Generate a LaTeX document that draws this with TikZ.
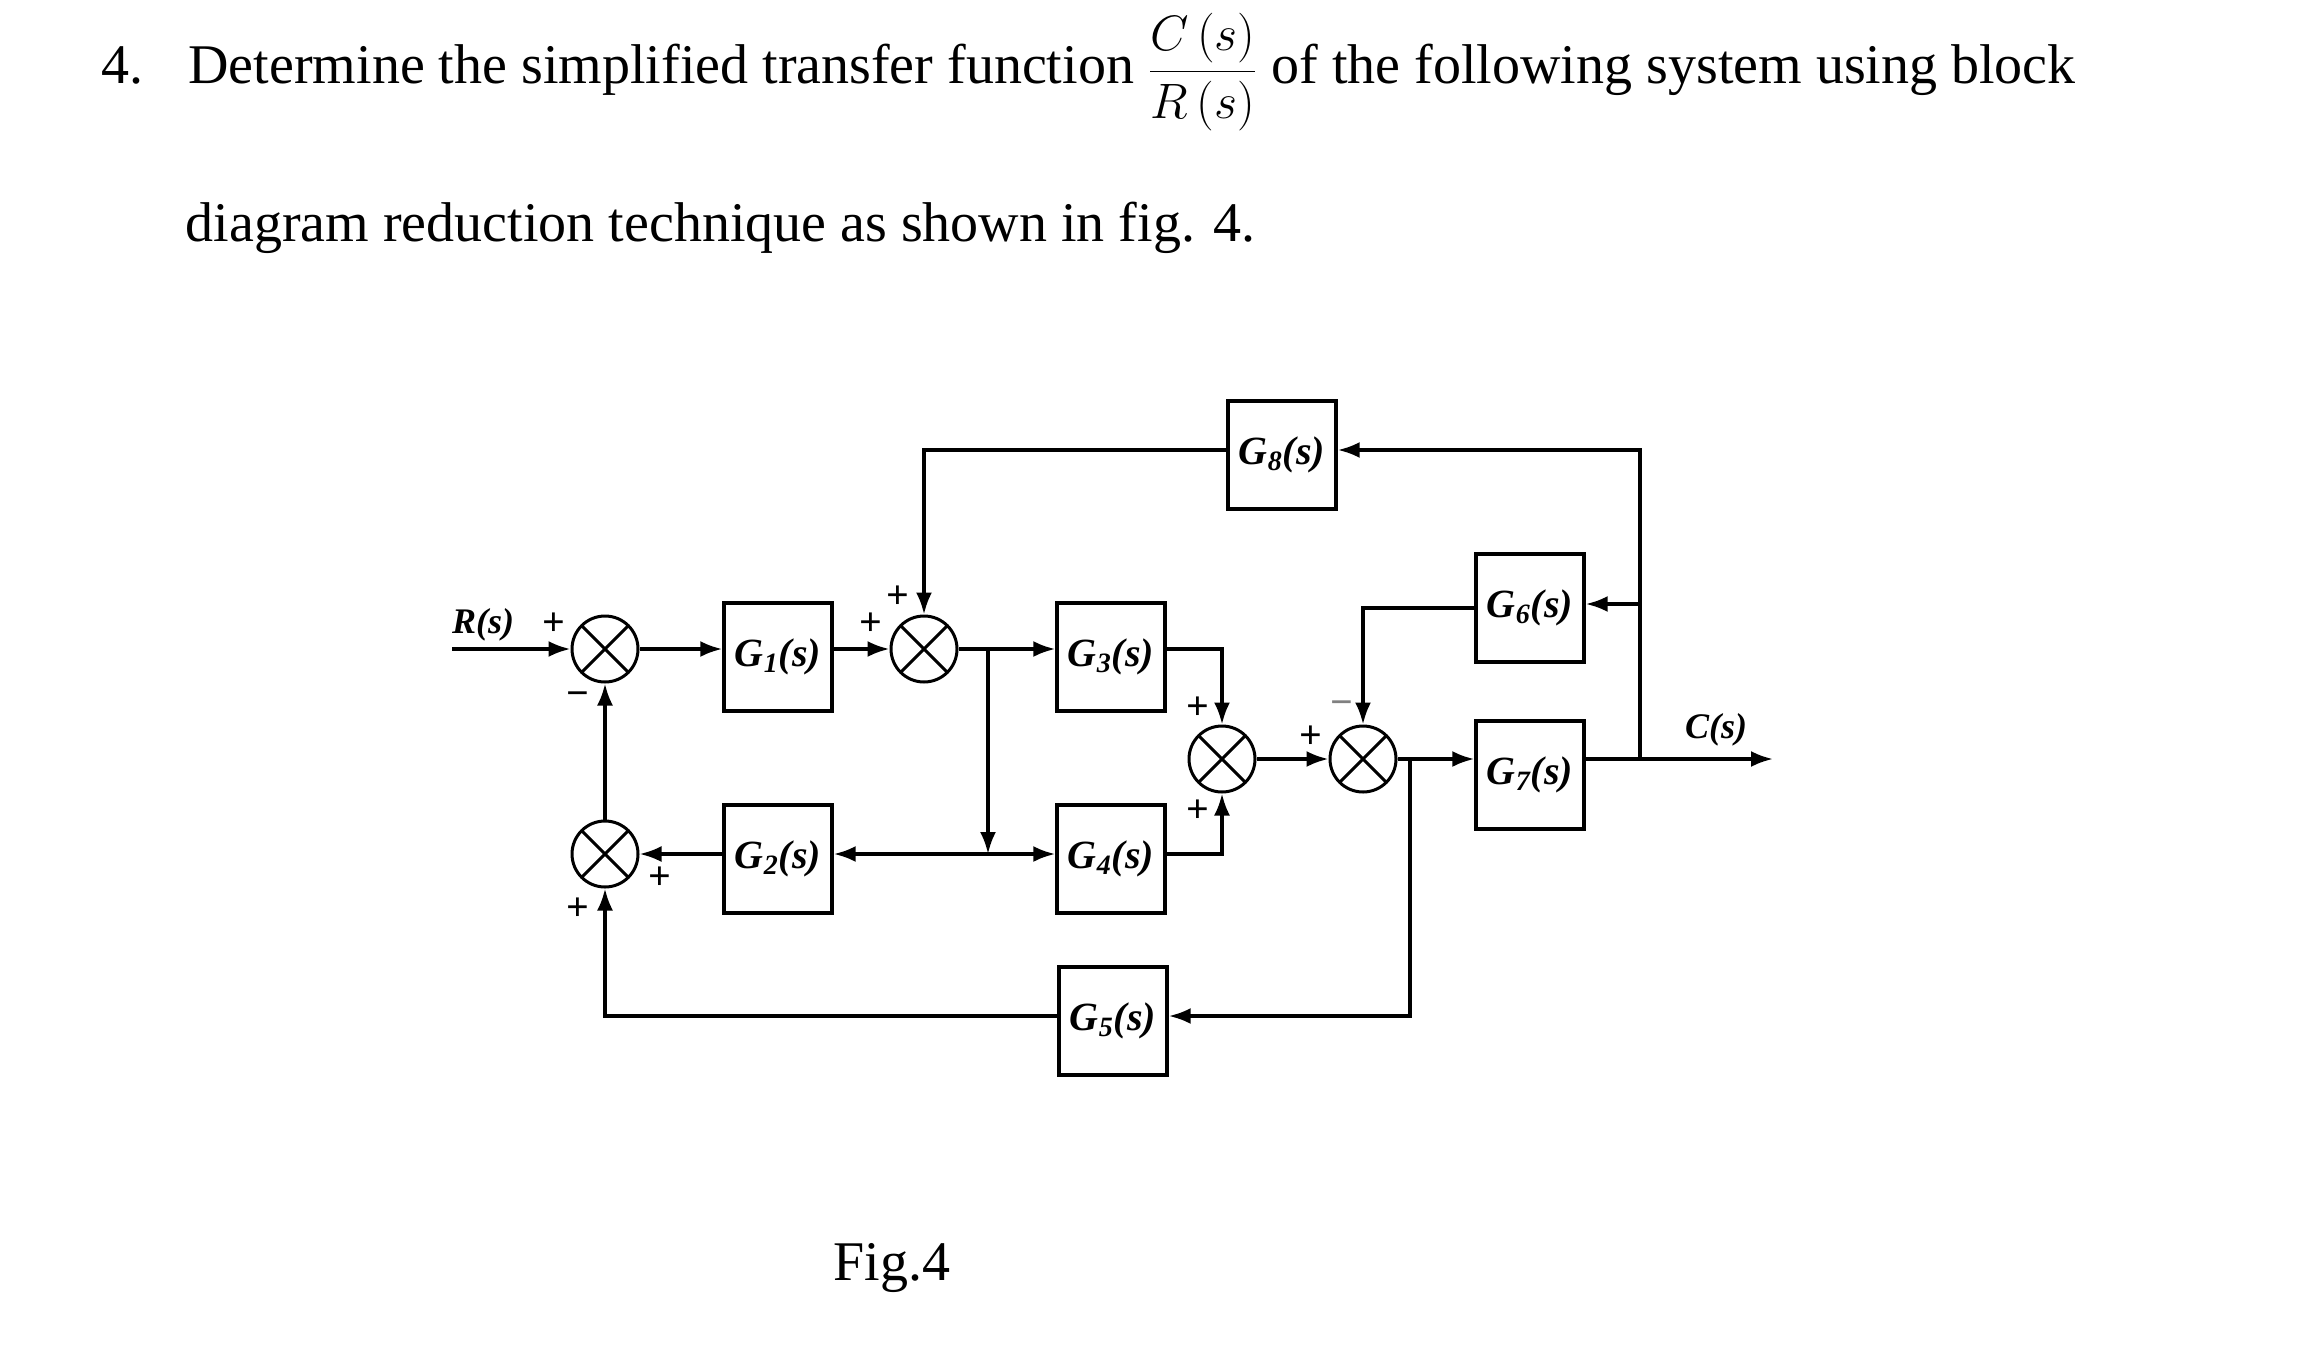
\documentclass[tikz,border=0pt]{standalone}
\usepackage{fontspec}
\setmainfont{Liberation Serif}
\usetikzlibrary{arrows.meta}
\begin{document}
\begin{tikzpicture}[x=0.5pt,y=-0.5pt,
  line width=1.7pt,
  >={Latex[length=11pt,width=8pt]},
  blk/.style={draw,minimum width=54pt,minimum height=54pt,inner sep=0pt,
    font=\fontsize{20}{20}\selectfont\bfseries\itshape},
  sum/.style={draw,circle,minimum size=33pt,inner sep=0pt,line width=1.5pt,
    path picture={\draw[line width=1.5pt] (path picture bounding box.north west)--(path picture bounding box.south east)
      (path picture bounding box.north east)--(path picture bounding box.south west);}},
  sg/.style={font=\fontsize{20}{20}\selectfont\bfseries},
  lbl/.style={font=\fontsize{18}{18}\selectfont\bfseries\itshape},
  txt/.style={anchor=base west,inner sep=0pt,font=\fontsize{28}{32}\selectfont}]
\useasboundingbox (0,0) rectangle (2310,1364);
% question text
\node[txt] (q1) at (100,84) {4.\hspace{0.8em}Determine the simplified transfer function {\fontsize{34}{34}\selectfont$\displaystyle\frac{C\left(s\right)}{R\left(s\right)}$} of the following system using block};
\node[txt] (q2) at (184,242) {diagram reduction technique as shown in fig. 4.};
\node[txt] (fig) at (832,1280) {Fig.4};
% summing junctions
\node[sum] (s1) at (605,649) {};
\node[sum] (s2) at (924,649) {};
\node[sum] (s4) at (605,854) {};
\node[sum] (s3) at (1222,759) {};
\node[sum] (s5) at (1363,759) {};
% blocks
\node[blk] (g1) at (778,657) {G\textsubscript{1}(s)};
\node[blk] (g3) at (1111,657) {G\textsubscript{3}(s)};
\node[blk] (g2) at (778,859) {G\textsubscript{2}(s)};
\node[blk] (g4) at (1111,859) {G\textsubscript{4}(s)};
\node[blk] (g5) at (1113,1021) {G\textsubscript{5}(s)};
\node[blk] (g8) at (1282,455) {G\textsubscript{8}(s)};
\node[blk] (g6) at (1530,608) {G\textsubscript{6}(s)};
\node[blk] (g7) at (1530,775) {G\textsubscript{7}(s)};
% points
\coordinate (in) at (452,649);
\coordinate (b1) at (988,649);
\coordinate (b2) at (988,854);
\coordinate (b3) at (1640,759);
\coordinate (b4) at (1410,759);
\coordinate (out) at (1773,759);
% labels
\node[lbl] (r) at (483,625) {R(s)};
\node[lbl] (c) at (1716,730) {C(s)};
\node[sg] (p1) at (554,624) {+};
\node[sg] (m1) at (578,699) {\textminus};
\node[sg] (p2) at (871,624) {+};
\node[sg] (p3) at (898,597) {+};
\node[sg] (p4) at (660,878) {+};
\node[sg] (p5) at (578,909) {+};
\node[sg] (p6) at (1198,708) {+};
\node[sg] (p7) at (1198,811) {+};
\node[sg] (p8) at (1311,737) {+};
\node[sg,gray] (m2) at (1342,708) {\textminus};
% forward path
\draw[->] (in) -- (s1);
\draw[->] (s1) -- (s1 -| g1.west);
\draw[->] (s1 -| g1.east) -- (s2);
\draw[->] (s2) -- (s2 -| g3.west);
\draw[->] (b1) -- (b2);
\draw[->] (b2) -- (b2 -| g4.west);
\draw[->] (b2) -- (b2 -| g2.east);
\draw[->] (b2 -| g2.west) -- (s4);
\draw[->] (s4) -- (s1);
\draw[->] (s1 -| g3.east) -| (s3);
\draw[->] (b2 -| g4.east) -| (s3);
\draw[->] (s3) -- (s5);
\draw[->] (s5) -- (s5 -| g7.west);
\draw[->] (s5 -| g7.east) -- (out);
% feedback paths
\draw[->] (b3) |- (g8.east |- 0,450);
\draw[->] (b3) |- (g6.east |- 0,604);
\draw[->] (g8.west |- 0,450) -| (s2);
\draw[->] (g6.west |- 0,608) -| (s5);
\draw[->] (b4) |- (g5.east |- 0,1016);
\draw[->] (g5.west |- 0,1016) -| (s4);
\end{tikzpicture}
\end{document}
